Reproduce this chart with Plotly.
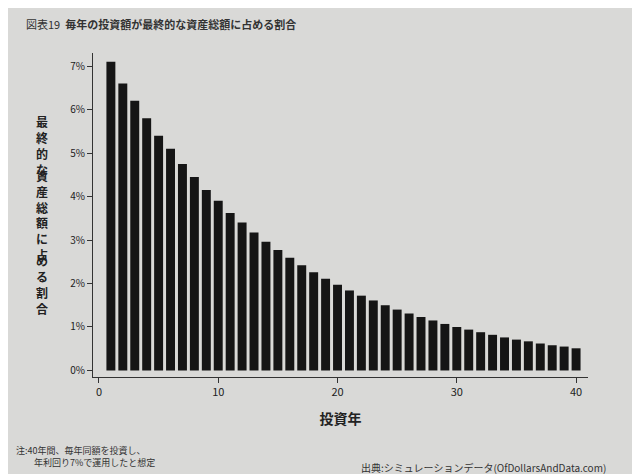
import plotly.graph_objects as go

years = list(range(1, 41))
share = [7.1, 6.6, 6.2, 5.8, 5.4, 5.1, 4.75, 4.45, 4.15, 3.9, 3.62, 3.4, 3.17, 2.96, 2.77, 2.59,
         2.42, 2.26, 2.11, 1.97, 1.84, 1.72, 1.61, 1.5, 1.4, 1.31, 1.23, 1.15, 1.07, 1.0,
         0.94, 0.88, 0.82, 0.76, 0.71, 0.67, 0.62, 0.58, 0.55, 0.51]
y_ticks = [0, 1, 2, 3, 4, 5, 6, 7]
x_ticks = [0, 10, 20, 30, 40]
ytitle = "最終的な資産総額に占める割合"

fig = go.Figure()
fig.add_trace(go.Bar(x=years, y=share, marker=dict(color="#151515", line=dict(width=0)),
                     width=0.75))

font = "Noto Sans CJK JP"

annotations = [
    dict(xref="paper", yref="paper", x=-0.14, y=1.06, xanchor="left", yanchor="bottom",
         text="図表19  <b>毎年の投資額が最終的な資産総額に占める割合</b>",
         font=dict(size=11, color="#333"), showarrow=False),
    dict(xref="paper", yref="paper", x=-0.16, y=-0.2, xanchor="left", yanchor="top",
         align="left", text="注:40年間、毎年同額を投資し、<br>　　年利回り7%で運用したと想定",
         font=dict(size=9, color="#333"), showarrow=False),
    dict(xref="paper", yref="paper", x=1.04, y=-0.25, xanchor="right", yanchor="top",
         text="出典:シミュレーションデータ(OfDollarsAndData.com)",
         font=dict(size=10, color="#333"), showarrow=False),
]
# vertical y-axis title, one character per annotation
n = len(ytitle)
for i, ch in enumerate(ytitle):
    annotations.append(dict(xref="paper", yref="paper", x=-0.12,
                            y=0.82 - i * 0.64 / (n - 1), text=f"<b>{ch}</b>",
                            font=dict(size=12, color="#222"), showarrow=False))

fig.update_layout(
    width=640, height=474,
    margin=dict(l=85, r=60, t=45, b=105),
    paper_bgcolor="#d9d9d7", plot_bgcolor="#d9d9d7",
    font=dict(family=font, color="#222"),
    showlegend=False, annotations=annotations, bargap=0.2,
)
fig.update_xaxes(range=[-0.5, 41], tickvals=x_ticks, showgrid=False, zeroline=False,
                 showline=True, linecolor="#333", ticks="outside", tickcolor="#333",
                 title=dict(text="<b>投資年</b>", font=dict(size=14)), tickfont=dict(size=11))
fig.update_yaxes(range=[-0.15, 7.3], tickvals=y_ticks, ticktext=[f"{t}%" for t in y_ticks],
                 showgrid=False, zeroline=False, showline=True, linecolor="#333",
                 ticks="outside", tickcolor="#333", tickfont=dict(size=10))

fig.write_html("out.html")
